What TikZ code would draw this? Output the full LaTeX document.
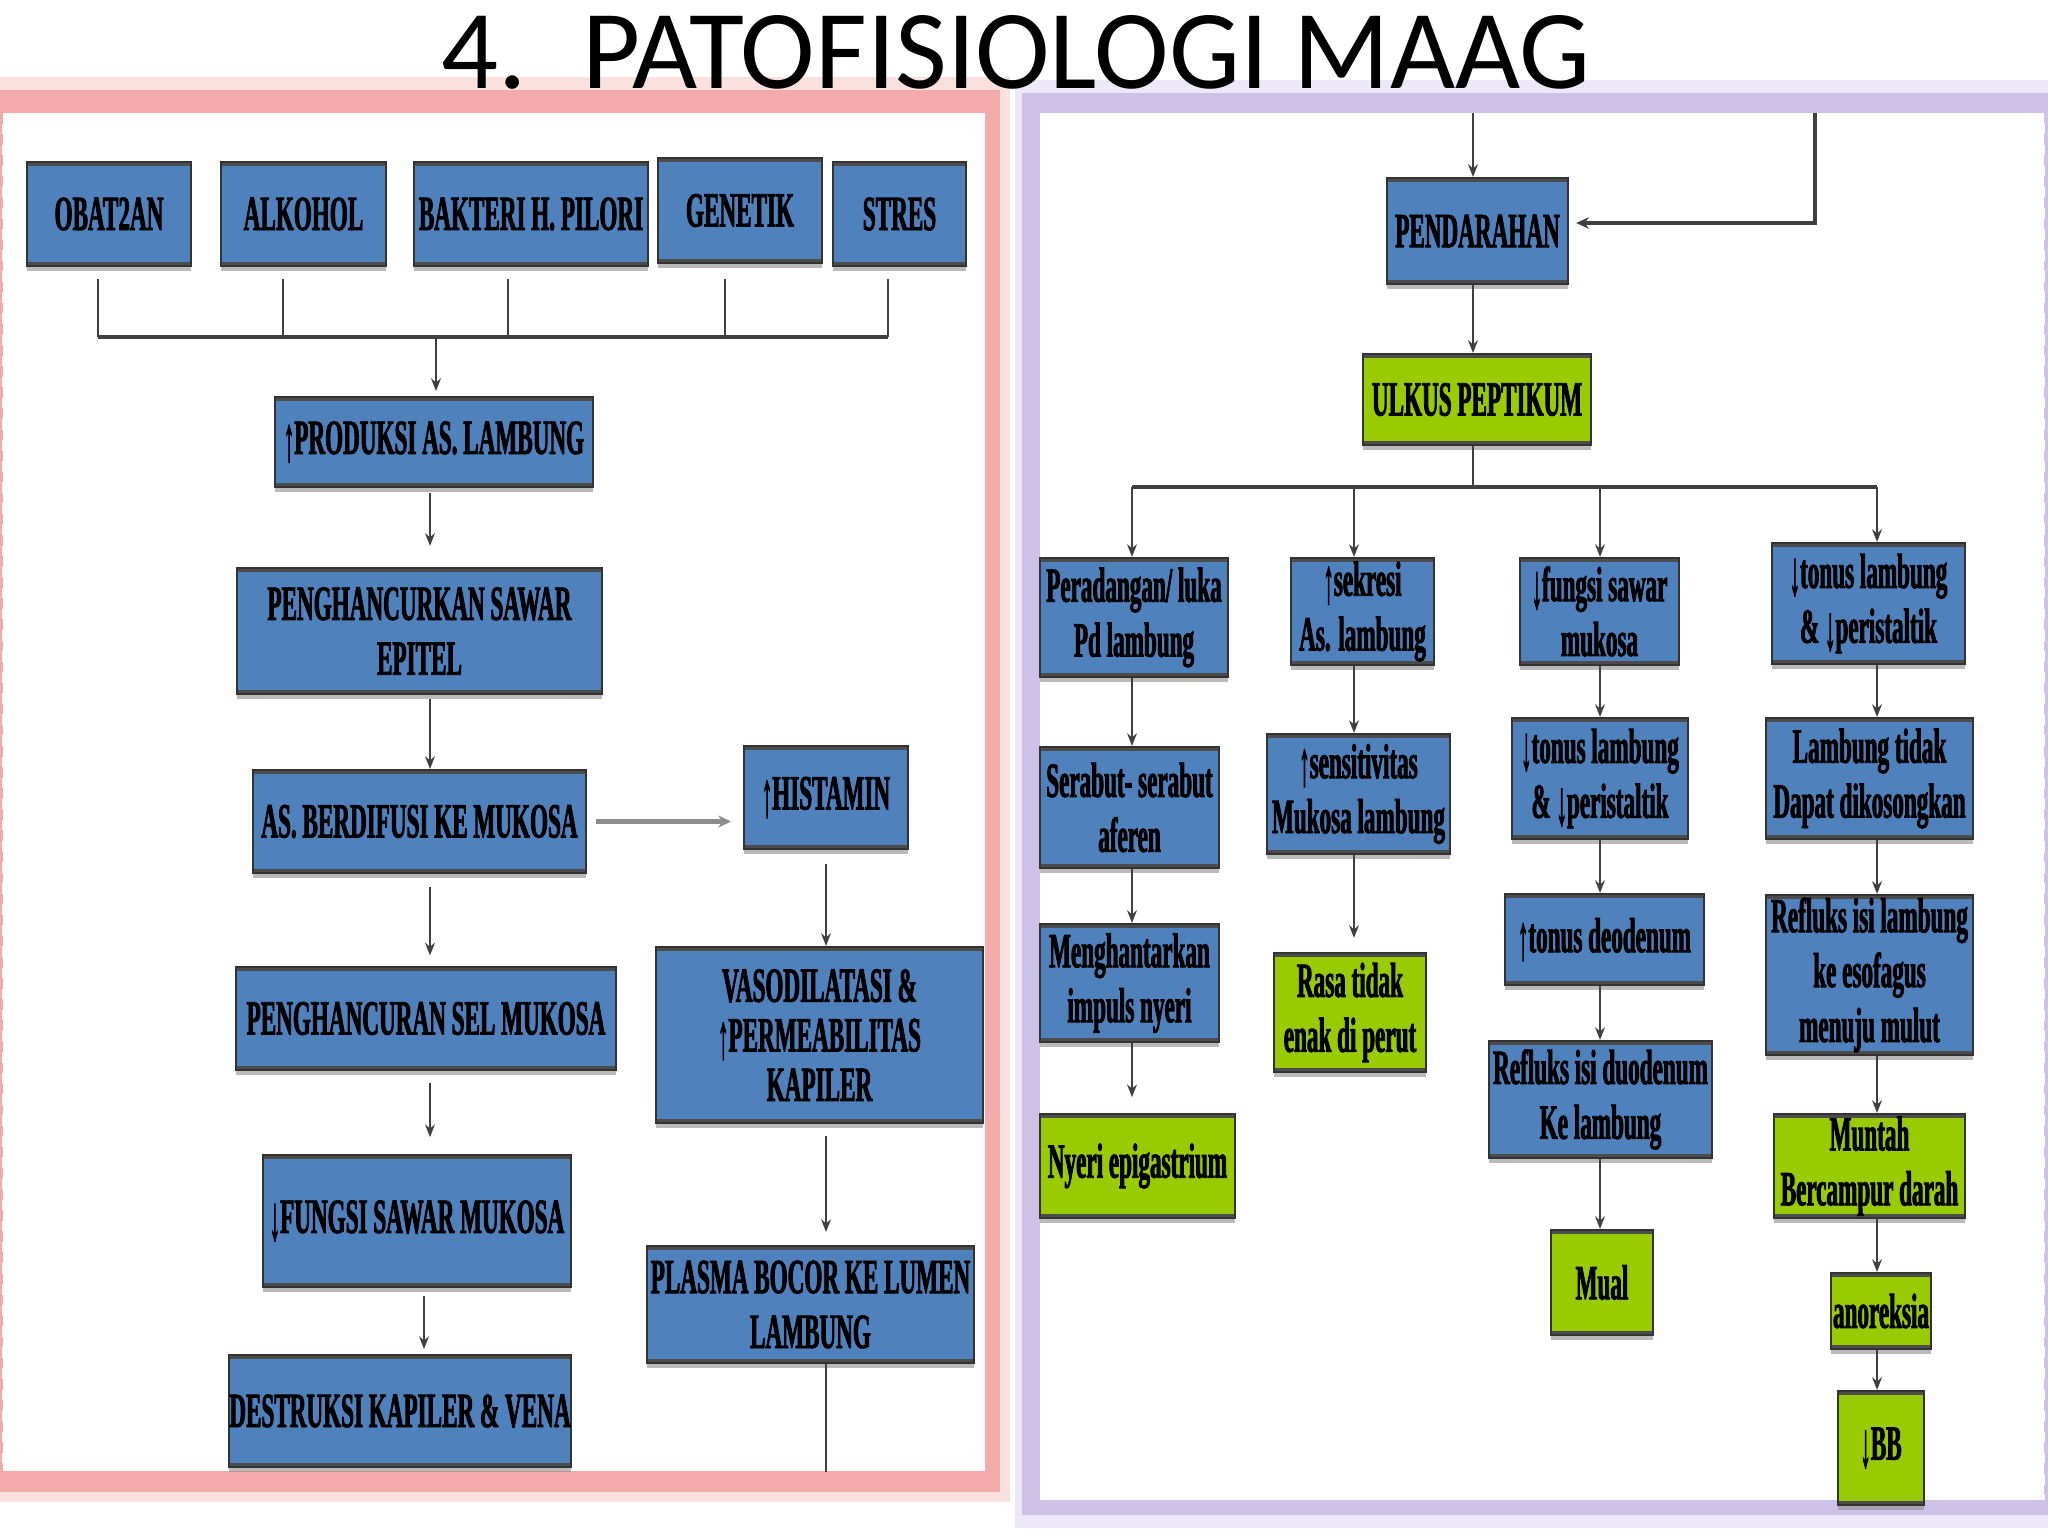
\documentclass[tikz,border=0pt]{standalone}
\usepackage{fontspec}
\usepackage{graphicx}
\usetikzlibrary{arrows.meta,fit,shadows}
\newfontfamily\titlefont{Carlito}
\newfontfamily\boxfont{Liberation Serif}[FakeStretch=0.47, FakeBold=1.6]
\newcommand{\upar}{\raisebox{-0.14em}{\scalebox{0.9}[1.3]{↑}}}
\newcommand{\dnar}{\raisebox{-0.14em}{\scalebox{0.9}[1.3]{↓}}}
\definecolor{boxblue}{HTML}{4F81BD}
\definecolor{boxgreen}{HTML}{99CC00}
\definecolor{pinkband}{HTML}{F4AAAA}
\definecolor{pinkhalo}{HTML}{FBE0E0}
\definecolor{lavband}{HTML}{CDC1E7}
\definecolor{lavhalo}{HTML}{EDE8F7}
\tikzset{
  basebox/.style={draw=black!80, line width=0.6pt, inner sep=0pt,
    drop shadow={shadow xshift=0pt, shadow yshift=-1.4pt, fill=black!45, opacity=0.6},
    path picture={
      \draw[black!70, line width=2.2pt] (path picture bounding box.north west) -- (path picture bounding box.north east);
      \draw[black!70, line width=2.2pt] (path picture bounding box.south west) -- (path picture bounding box.south east);}},
  bluebox/.style={basebox, fill=boxblue},
  greenbox/.style={basebox, fill=boxgreen},
  boxtext/.style={font=\boxfont\bfseries\fontsize{14}{15.6}\selectfont, align=center, inner sep=0pt, text=black},
  conn/.style={draw=black!75, line width=0.55pt, -{Stealth[length=3.6pt,width=2.8pt]}},
  plainline/.style={draw=black!75, line width=0.55pt},
  busline/.style={draw=black!75, line width=1.2pt},
}
\newcommand{\mybox}[7]{%
  \node[#6, fit={(#2,#3) (#4,#5)}] (#1) {};
  \node[boxtext] (#1-t) at (#1.center) {#7};}
\begin{document}
\begin{tikzpicture}[x=0.01cm, y=-0.01cm]
\useasboundingbox (0,0) rectangle (2048,1536);
\clip (0,0) rectangle (2048,1536);
\fill[white] (0,0) rectangle (2048,1536);
% right panel frame
\fill[lavhalo] (1015,80) rectangle (2060,1528);
\fill[lavband] (1022,93) rectangle (2060,1515);
\fill[white] (1040,113) rectangle (2045,1500);
\draw[lavband, dashed, line width=1pt] (2046,113) -- (2046,1500);
% left panel frame
\fill[pinkhalo] (-10,77) rectangle (1010,1502);
\fill[pinkband] (-10,90) rectangle (1000,1492);
\fill[white] (2,113) rectangle (985,1471);
\draw[pinkband, dashed, line width=1pt] (1,113) -- (1,1471);
% title
\node[font=\titlefont\fontsize{32}{36}\selectfont, anchor=base, inner sep=0pt] (title) at (1016,88) {4.\hspace{0.5em}PATOFISIOLOGI MAAG};

% ---------- left panel boxes ----------
\mybox{obat}{27}{162}{191}{266}{bluebox}{OBAT2AN}
\mybox{alko}{221}{162}{386}{266}{bluebox}{ALKOHOL}
\mybox{bakt}{414}{162}{648}{266}{bluebox}{BAKTERI H. PILORI}
\mybox{gene}{658}{158}{822}{263}{bluebox}{GENETIK}
\mybox{stres}{833}{162}{966}{266}{bluebox}{STRES}
\mybox{prod}{275}{397}{593}{487}{bluebox}{\upar PRODUKSI AS. LAMBUNG}
\mybox{peng}{237}{568}{602}{694}{bluebox}{PENGHANCURKAN SAWAR\\EPITEL}
\mybox{asb}{253}{770}{586}{873}{bluebox}{AS. BERDIFUSI KE MUKOSA}
\mybox{hist}{744}{746}{908}{849}{bluebox}{\upar HISTAMIN}
\mybox{sel}{236}{967}{616}{1070}{bluebox}{PENGHANCURAN SEL MUKOSA}
\mybox{vaso}{656}{947}{983}{1123}{bluebox}{VASODILATASI \&\\[-1.5pt]\upar PERMEABILITAS\\[-1.5pt]KAPILER}
\mybox{fung}{263}{1155}{571}{1287}{bluebox}{\dnar FUNGSI SAWAR MUKOSA}
\mybox{dest}{229}{1355}{571}{1467}{bluebox}{DESTRUKSI KAPILER \& VENA}
\mybox{plas}{647}{1246}{974}{1363}{bluebox}{PLASMA BOCOR KE LUMEN\\LAMBUNG}

% ---------- right panel boxes ----------
\mybox{pend}{1387}{178}{1568}{284}{bluebox}{PENDARAHAN}
\mybox{ulk}{1363}{354}{1591}{445}{greenbox}{ULKUS PEPTIKUM}
\mybox{c1a}{1040}{558}{1228}{677}{bluebox}{Peradangan/ luka\\Pd lambung}
\mybox{c1b}{1040}{747}{1219}{868}{bluebox}{Serabut- serabut\\aferen}
\mybox{c1c}{1040}{924}{1219}{1042}{bluebox}{Menghantarkan\\impuls nyeri}
\mybox{c1d}{1040}{1114}{1235}{1218}{greenbox}{Nyeri epigastrium}
\mybox{c2a}{1291}{558}{1434}{665}{bluebox}{\upar sekresi\\As. lambung}
\mybox{c2b}{1267}{734}{1450}{854}{bluebox}{\upar sensitivitas\\Mukosa lambung}
\mybox{c2c}{1274}{953}{1426}{1072}{greenbox}{Rasa tidak\\enak di perut}
\mybox{c3a}{1520}{558}{1679}{665}{bluebox}{\dnar fungsi sawar\\mukosa}
\mybox{c3b}{1512}{718}{1688}{839}{bluebox}{\dnar tonus lambung\\\& \dnar peristaltik}
\mybox{c3c}{1505}{894}{1704}{985}{bluebox}{\upar tonus deodenum}
\mybox{c3d}{1489}{1041}{1712}{1158}{bluebox}{Refluks isi duodenum\\Ke lambung}
\mybox{c3e}{1551}{1230}{1653}{1335}{greenbox}{Mual}
\mybox{c4a}{1772}{543}{1965}{664}{bluebox}{\dnar tonus lambung\\\& \dnar peristaltik}
\mybox{c4b}{1766}{718}{1973}{839}{bluebox}{Lambung tidak\\Dapat dikosongkan}
\mybox{c4c}{1766}{895}{1973}{1055}{bluebox}{Refluks isi lambung\\ke esofagus\\menuju mulut}
\mybox{c4d}{1774}{1114}{1965}{1218}{greenbox}{Muntah\\Bercampur darah}
\mybox{c4e}{1831}{1273}{1931}{1349}{greenbox}{anoreksia}
\mybox{c4f}{1838}{1391}{1924}{1505}{greenbox}{\dnar BB}

% ---------- left connectors ----------
\coordinate (b1) at (98,337);
\coordinate (b2) at (283,337);
\coordinate (b3) at (508,337);
\coordinate (b4) at (725,337);
\coordinate (b5) at (888,337);
\coordinate (bm) at (436,337);
\coordinate (xa) at (430,0);
\coordinate (xb) at (424,0);
\coordinate (xc) at (826,0);
\coordinate (pbot) at (826,1472);
\draw[plainline] ([yshift=-12*0.01cm]obat.south -| b1) -- (b1);
\draw[plainline] ([yshift=-12*0.01cm]alko.south -| b2) -- (b2);
\draw[plainline] ([yshift=-12*0.01cm]bakt.south -| b3) -- (b3);
\draw[plainline] ([yshift=-15*0.01cm]gene.south -| b4) -- (b4);
\draw[plainline] ([yshift=-12*0.01cm]stres.south -| b5) -- (b5);
\draw[busline] (b1) -- (b5);
\draw[conn, shorten >=1.4pt] (bm) -- (prod.north -| bm);
\draw[conn, shorten <=1.4pt, shorten >=6pt] (prod.south -| xa) -- (peng.north -| xa);
\draw[conn, shorten <=1pt] (peng.south -| xa) -- (asb.north -| xa);
\draw[conn, shorten <=3.7pt, shorten >=3pt] (asb.south -| xa) -- (sel.north -| xa);
\draw[conn, shorten <=3.4pt, shorten >=4.8pt] (sel.south -| xa) -- (fung.north -| xa);
\draw[conn, shorten <=2.3pt, shorten >=1.4pt] (fung.south -| xb) -- (dest.north -| xb);
\draw[draw=black!45, line width=1.6pt, -{Stealth[length=3.6pt,width=3.4pt]}, shorten <=2.6pt, shorten >=3.4pt] (asb.east) -- (hist.west |- asb.east);
\draw[conn, shorten <=4pt] (hist.south -| xc) -- (vaso.north -| xc);
\draw[conn, shorten <=3.4pt, shorten >=3.7pt] (vaso.south -| xc) -- (plas.north -| xc);
\draw[plainline] (plas.south -| xc) -- (pbot);

% ---------- right connectors ----------
\coordinate (t1) at (1473,113);
\coordinate (t2) at (1815,113);
\coordinate (k2) at (1815,223);
\coordinate (r0) at (1473,487);
\coordinate (r1) at (1132,487);
\coordinate (r2) at (1354,487);
\coordinate (r3) at (1600,487);
\coordinate (r4) at (1877,487);
\draw[conn] (t1) -- (pend.north -| t1);
\draw[draw=black!75, line width=1.1pt, -{Stealth[length=3.6pt,width=3.2pt]}, shorten >=2pt] (t2) -- (k2) -- (pend.east |- k2);
\draw[conn] (pend.south -| t1) -- (ulk.north -| t1);
\draw[plainline] (ulk.south -| r0) -- (r0);
\draw[busline] (r1) -- (r4);
\draw[conn] (r1) -- (c1a.north -| r1);
\draw[conn] (r2) -- (c2a.north -| r2);
\draw[conn] (r3) -- (c3a.north -| r3);
\draw[conn] (r4) -- (c4a.north -| r4);
\draw[conn] (c1a.south -| r1) -- (c1b.north -| r1);
\draw[conn] (c1b.south -| r1) -- (c1c.north -| r1);
\draw[conn, shorten >=4.5pt] (c1c.south -| r1) -- (c1d.north -| r1);
\draw[conn] (c2a.south -| r2) -- (c2b.north -| r2);
\draw[conn, shorten >=4pt] (c2b.south -| r2) -- (c2c.north -| r2);
\draw[conn] (c3a.south -| r3) -- (c3b.north -| r3);
\draw[conn] (c3b.south -| r3) -- (c3c.north -| r3);
\draw[conn] (c3c.south -| r3) -- (c3d.north -| r3);
\draw[conn] (c3d.south -| r3) -- (c3e.north -| r3);
\draw[conn] (c4a.south -| r4) -- (c4b.north -| r4);
\draw[conn] (c4b.south -| r4) -- (c4c.north -| r4);
\draw[conn] (c4c.south -| r4) -- (c4d.north -| r4);
\draw[conn] (c4d.south -| r4) -- (c4e.north -| r4);
\draw[conn] (c4e.south -| r4) -- (c4f.north -| r4);
\end{tikzpicture}
\end{document}
